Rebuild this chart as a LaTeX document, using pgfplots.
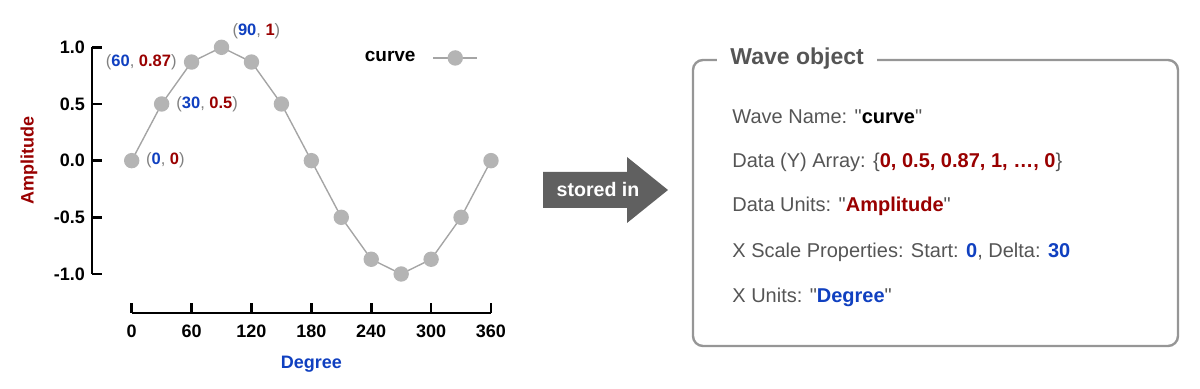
\documentclass[border=0pt]{standalone}
\usepackage{pgfplots}
\pgfplotsset{compat=1.18}
\usepackage{fontspec}
\setmainfont{Liberation Sans}[Ligatures=TeXOff]
\definecolor{dred}{RGB}{153,0,0}
\definecolor{dblue}{RGB}{16,64,192}
\definecolor{tgray}{RGB}{85,85,85}
\definecolor{pgray}{RGB}{128,128,128}
\definecolor{mgray}{RGB}{180,180,180}
\definecolor{lgray}{RGB}{165,165,165}
\definecolor{agray}{RGB}{96,96,96}
\definecolor{bgray}{RGB}{150,150,150}
\newcommand{\fs}[1]{\fontsize{#1}{#1}\selectfont}
\newcommand{\ann}[2]{\textcolor{pgray}{(}\textbf{\textcolor{dblue}{#1}}\textcolor{pgray}{, }\textbf{\textcolor{dred}{#2}}\textcolor{pgray}{)}}
\begin{document}
\begin{tikzpicture}
\useasboundingbox (0,0) rectangle (600pt,194.5pt);
\begin{axis}[
  at={(65.85pt,57.5pt)}, anchor=south west,
  scale only axis, width=179.65pt, height=113.35pt,
  xmin=0, xmax=360, ymin=-1, ymax=1,
  axis lines=left,
  axis x line shift=19.5pt,
  axis y line shift=19.85pt,
  axis line style={-, line width=1.3pt, black},
  tick align=inside,
  major tick length=5pt,
  tick style={line width=1.3pt, black},
  xtick={0,60,120,180,240,300,360},
  xticklabels={0,60,120,180,240,300,360},
  ytick={-1,-0.5,0,0.5,1},
  yticklabels={-1.0,-0.5,0.0,0.5,1.0},
  ticklabel style={font=\bfseries\fs{9}},
  xticklabel style={yshift=-2.5pt},
  xlabel={Degree}, ylabel={Amplitude},
  every axis x label/.style={font=\bfseries\fs{9}, text=dblue, at={(axis description cs:0.5,-0.397)}, anchor=center},
  every axis y label/.style={font=\bfseries\fs{9}, text=dred, at={(axis description cs:-0.286,0.5)}, anchor=center, rotate=90},
  clip=false,
  legend style={draw=none, fill=none, at={(axis description cs:0.62,0.953)}, anchor=west, font=\bfseries\fs{9.5}, column sep=6.5pt},
  legend plot pos=right,
  legend image code/.code={\draw[mark repeat=2,mark phase=2] plot coordinates {(0pt,0pt)(11pt,0pt)(22pt,0pt)};},
]
\addplot[color=lgray, line width=0.7pt, mark=*, mark size=3.5pt, mark options={fill=mgray, draw=mgray}]
  coordinates {(0,0)(30,0.5)(60,0.87)(90,1)(120,0.87)(150,0.5)(180,0)(210,-0.5)(240,-0.87)(270,-1)(300,-0.87)(330,-0.5)(360,0)};
\addlegendentry{curve}
\node[anchor=west, xshift=7pt, font=\fs{8.25}, inner sep=0pt] at (axis cs:0,0) {\ann{0}{0}};
\node[anchor=west, xshift=7.2pt, font=\fs{8.25}, inner sep=0pt] at (axis cs:30,0.5) {\ann{30}{0.5}};
\node[anchor=east, xshift=-7.3pt, font=\fs{8.25}, inner sep=0pt] at (axis cs:60,0.87) {\ann{60}{0.87}};
\node[anchor=west, xshift=5.3pt, yshift=8pt, font=\fs{8.25}, inner sep=0pt] at (axis cs:90,1) {\ann{90}{1}};
\end{axis}
\begin{scope}[x=0.5pt,y=-0.5pt,shift={(0pt,194.5pt)}]
\fill[agray] (543,172) -- (627,172) -- (627,157) -- (668,190) -- (627,223) -- (627,208) -- (543,208) -- cycle;
\node[text=white, font=\bfseries\fs{9.8}] at (598,190) {stored in};
\draw[bgray, line width=1.2pt, rounded corners=5pt] (693,60) rectangle (1178,346);
\node[fill=white, anchor=west, inner xsep=6.5pt, inner ysep=2pt, text=tgray, font=\bfseries\fs{11.5}] at (717,59) {Wave object};
\node[anchor=west, inner sep=0pt, text=tgray, font=\fs{10}] at (732,117) {Wave Name: "\textbf{\textcolor{black}{curve}}"};
\node[anchor=west, inner sep=0pt, text=tgray, font=\fs{10}] at (732,162) {Data (Y) Array: \{\textbf{\textcolor{dred}{0, 0.5, 0.87, 1, …, 0}}\}};
\node[anchor=west, inner sep=0pt, text=tgray, font=\fs{10}] at (732,206) {Data Units: "\textbf{\textcolor{dred}{Amplitude}}"};
\node[anchor=west, inner sep=0pt, text=tgray, font=\fs{10}] at (732,252) {X Scale Properties: Start: \textbf{\textcolor{dblue}{0}}, Delta: \textbf{\textcolor{dblue}{30}}};
\node[anchor=west, inner sep=0pt, text=tgray, font=\fs{10}] at (732,297) {X Units: "\textbf{\textcolor{dblue}{Degree}}"};
\end{scope}
\end{tikzpicture}
\end{document}
